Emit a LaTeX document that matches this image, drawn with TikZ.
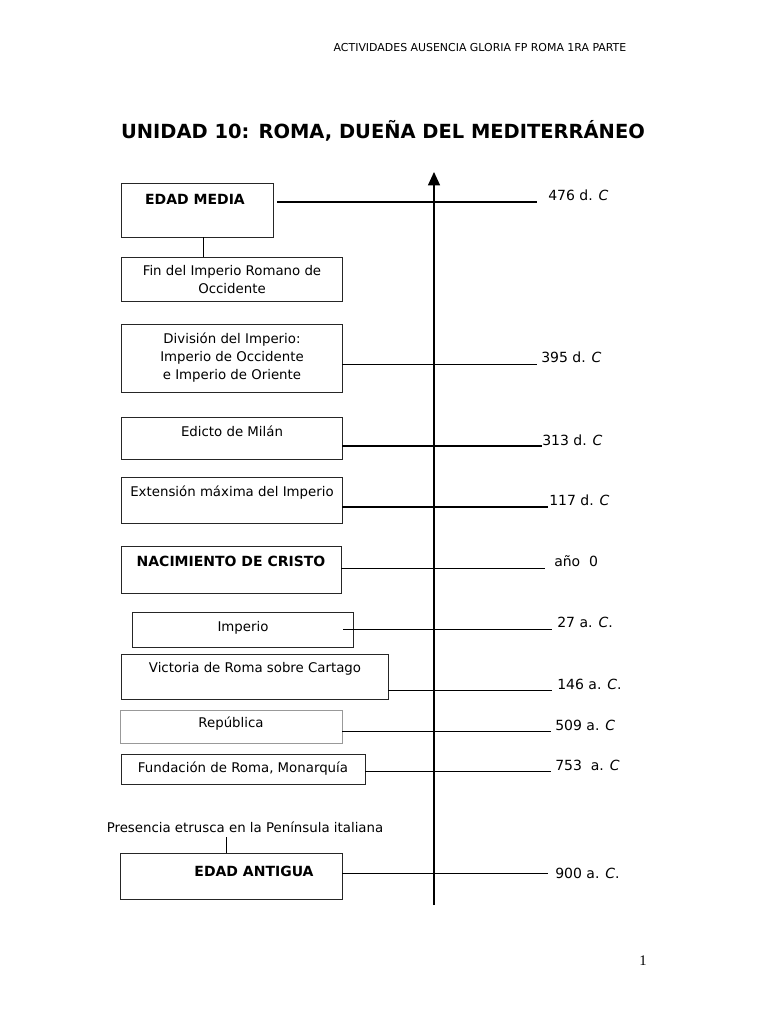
\documentclass[tikz,border=0pt]{standalone}
\usepackage{fontspec}
\setmainfont{DejaVu Sans}
\newfontfamily\pagefont{Liberation Serif}
\usetikzlibrary{arrows.meta,fit,positioning}

\begin{document}
\begin{tikzpicture}[x=0.75pt,y=-0.75pt,
    evbox/.style={draw=black!85,line width=0.65pt,inner sep=0pt},
    boxtxt/.style={font=\fontsize{10}{13.5}\selectfont,align=center},
    boldtxt/.style={font=\fontsize{10.5}{13}\selectfont\bfseries},
    datelbl/.style={font=\fontsize{10.5}{13}\selectfont,anchor=west,inner sep=0pt},
    tick/.style={line width=0.65pt},
    bigtick/.style={line width=1.4pt}]

\useasboundingbox[fill=white] (0,0) rectangle (768,1024);

% === Header and title ===
\node[font=\fontsize{8.2}{9}\selectfont] (hdr) at (480,48) {ACTIVIDADES AUSENCIA GLORIA FP ROMA 1RA PARTE};
\node[font=\fontsize{14.6}{17}\selectfont\bfseries] (title) at (383,131) {UNIDAD 10: ROMA, DUEÑA DEL MEDITERRÁNEO};

% === Time axis ===
\coordinate (axbot) at (434,905);
\coordinate (axtop) at (434,172);
\draw[line width=0.9pt,-{Triangle[width=9pt,length=10pt]}] (axbot) -- (axtop);

% === Event boxes ===
\node[evbox,fit={(121,183) (273,237)}] (med) {};
\node[evbox,fit={(121,257) (342,301)}] (fin) {};
\node[evbox,fit={(121,324) (342,392)}] (div) {};
\node[evbox,fit={(121,417) (342,459)}] (edi) {};
\node[evbox,fit={(121,477) (342,523)}] (ext) {};
\node[evbox,fit={(121,546) (341,593)}] (nac) {};
\node[evbox,fit={(132,612) (353,647)}] (imp) {};
\node[evbox,fit={(121,654) (388,699)}] (vic) {};
\node[evbox,draw=black!40,fit={(120,710) (342,743)}] (rep) {};
\node[evbox,fit={(121,754) (365,784)}] (fun) {};
\node[evbox,fit={(120,853) (342,899)}] (ant) {};

% Box texts
\node[boldtxt] (medtxt) at (195,199) {EDAD MEDIA};
\node[boxtxt] (fintxt) at (232,280) {Fin del Imperio Romano de\\Occidente};
\node[boxtxt] (divtxt) at (232,358) {División del Imperio:\\Imperio de Occidente\\e Imperio de Oriente};
\node[boxtxt] (editxt) at (232,431) {Edicto de Milán};
\node[boxtxt] (exttxt) at (232,493) {Extensión máxima del Imperio};
\node[boldtxt] (nactxt) at (231,561) {NACIMIENTO DE CRISTO};
\node[boxtxt] (imptxt) at (243,628) {Imperio};
\node[boxtxt] (victxt) at (255,669) {Victoria de Roma sobre Cartago};
\node[boxtxt] (reptxt) at (231,724) {República};
\node[boxtxt] (funtxt) at (243,769) {Fundación de Roma, Monarquía};
\node[boxtxt] (pres) at (245,827) {Presencia etrusca en la Península italiana};
\node[boldtxt] (anttxt) at (254,871) {EDAD ANTIGUA};

% Small vertical links
\draw[tick] ([xshift=5pt]med.south) -- ([xshift=5pt]med.south |- fin.north);
\draw[tick] ([xshift=-14pt]pres.south) -- ([xshift=-14pt]pres.south |- ant.north);

% === Date lines ===
\coordinate (e476) at (537,202);
\coordinate (e395) at (537,364);
\coordinate (e313) at (542,446);
\coordinate (e117) at (548,507);
\coordinate (e0)   at (545,568);
\coordinate (e27)  at (552,629);
\coordinate (e146) at (552,690);
\coordinate (e509) at (551,731);
\coordinate (e753) at (551,771);
\coordinate (e900) at (548,873);

\draw[bigtick] ([xshift=3pt]med.east |- e476) -- (e476);
\foreach \b/\d/\w in {div/395/tick, edi/313/bigtick, ext/117/bigtick, nac/0/tick,
                      vic/146/tick, rep/509/tick, fun/753/tick, ant/900/tick} {
    \draw[\w] (\b.east |- e\d) -- (e\d);
}
\draw[tick] ([xshift=-7.5pt]imp.east |- e27) -- (e27);

% Date labels
\node[datelbl] (l476) at (548,195) {476 d. \textit{C}};
\node[datelbl] (l395) at (541,357) {395 d. \textit{C}};
\node[datelbl] (l313) at (542,440) {313 d. \textit{C}};
\node[datelbl] (l117) at (549,500) {117 d. \textit{C}};
\node[datelbl] (l0)   at (554,561) {año\ \ 0};
\node[datelbl] (l27)  at (557,622) {27 a. \textit{C}.};
\node[datelbl] (l146) at (557,684) {146 a. \textit{C}.};
\node[datelbl] (l509) at (555,725) {509 a. \textit{C}};
\node[datelbl] (l753) at (555,765) {753\ \ a. \textit{C}};
\node[datelbl] (l900) at (555,873) {900 a. \textit{C}.};

% Page number
\node[font=\pagefont\fontsize{11}{13}\selectfont] (pg) at (643,961) {1};

\end{tikzpicture}
\end{document}
